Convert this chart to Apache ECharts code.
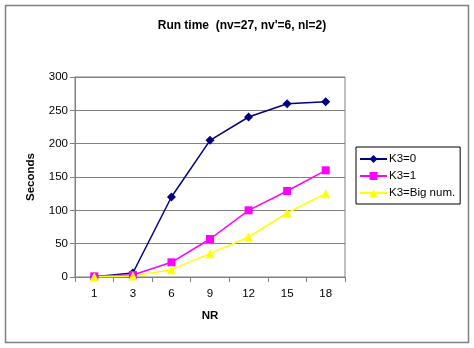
<!DOCTYPE html>
<html>
<head>
<meta charset="utf-8">
<script src="https://cdn.jsdelivr.net/npm/echarts@6/dist/echarts.min.js"></script>
<style>
  html, body { margin: 0; padding: 0; background: #fff; }
  #chart { width: 474px; height: 348px; }
</style>
</head>
<body>
<div id="chart"></div>
<script>
// Run time versus NR for three K3 settings
const nrValues = ['1', '3', '6', '9', '12', '15', '18'];
const k3Zero = [0.5, 6, 120, 205, 240, 260, 263];
const k3One = [1, 3, 22, 57, 100, 129, 160];
const k3Big = [0.5, 1.5, 11, 35, 60, 96, 125];
const yTicks = [0, 50, 100, 150, 200, 250, 300];

const font = 'Liberation Sans, Arial, sans-serif';
const chart = echarts.init(document.getElementById('chart'), null, { renderer: 'canvas' });

function lineSeries(name, data, color, symbol, size) {
  return {
    name: name,
    type: 'line',
    data: data,
    symbol: symbol,
    symbolSize: size,
    lineStyle: { color: color, width: 1.5 },
    itemStyle: { color: color },
    emphasis: { disabled: true },
    animation: false
  };
}

chart.setOption({
  animation: false,
  backgroundColor: '#fff',
  textStyle: { fontFamily: font },
  title: {
    text: 'Run time  (nv=27, nv\'=6, nl=2)',
    left: 237,
    textAlign: 'center',
    top: 15,
    textStyle: { fontFamily: font, fontSize: 12, fontWeight: 'bold', color: '#000' }
  },
  graphic: [{
    type: 'rect',
    shape: { x: 5.5, y: 5.5, width: 463, height: 337 },
    style: { fill: 'none', stroke: '#808080', lineWidth: 1.5 },
    silent: true
  }],
  grid: {
    left: 75, right: 129, top: 77, bottom: 71,
    show: true, borderColor: '#808080', borderWidth: 1, backgroundColor: '#fff'
  },
  legend: {
    orient: 'vertical',
    left: 356, top: 147,
    padding: [6, 5, 5, 3],
    itemGap: 5,
    itemWidth: 27, itemHeight: 10,
    borderColor: '#000', borderWidth: 1,
    backgroundColor: '#fff',
    textStyle: { fontFamily: font, fontSize: 11.5, color: '#000', padding: [0, 0, 0, -3] },
    data: ['K3=0', 'K3=1', 'K3=Big num.']
  },
  xAxis: {
    type: 'category',
    data: nrValues,
    boundaryGap: true,
    name: 'NR',
    nameLocation: 'middle',
    nameGap: 33,
    nameTextStyle: { fontFamily: font, fontSize: 11.5, fontWeight: 'bold', color: '#000' },
    axisLine: { lineStyle: { color: '#808080', width: 1 } },
    axisTick: { show: true, length: 5, interval: 0, lineStyle: { color: '#808080' } },
    axisLabel: { fontFamily: font, fontSize: 11.5, color: '#000', margin: 11 },
    splitLine: { show: false }
  },
  yAxis: {
    type: 'value',
    min: yTicks[0],
    max: yTicks[yTicks.length - 1],
    interval: 50,
    name: 'Seconds',
    nameLocation: 'middle',
    nameGap: 38,
    nameRotate: 90,
    nameTextStyle: { fontFamily: font, fontSize: 11.5, fontWeight: 'bold', color: '#000' },
    axisLine: { show: true, lineStyle: { color: '#808080', width: 1 } },
    axisTick: { show: true, length: 5, lineStyle: { color: '#808080' } },
    axisLabel: { fontFamily: font, fontSize: 11.5, color: '#000', margin: 7 },
    splitLine: { show: true, lineStyle: { color: '#808080', width: 1 } }
  },
  series: [
    lineSeries('K3=0', k3Zero, '#000080', 'diamond', 9),
    lineSeries('K3=1', k3One, '#FF00FF', 'rect', 8),
    lineSeries('K3=Big num.', k3Big, '#FFFF00', 'triangle', 9)
  ]
});
</script>
</body>
</html>
